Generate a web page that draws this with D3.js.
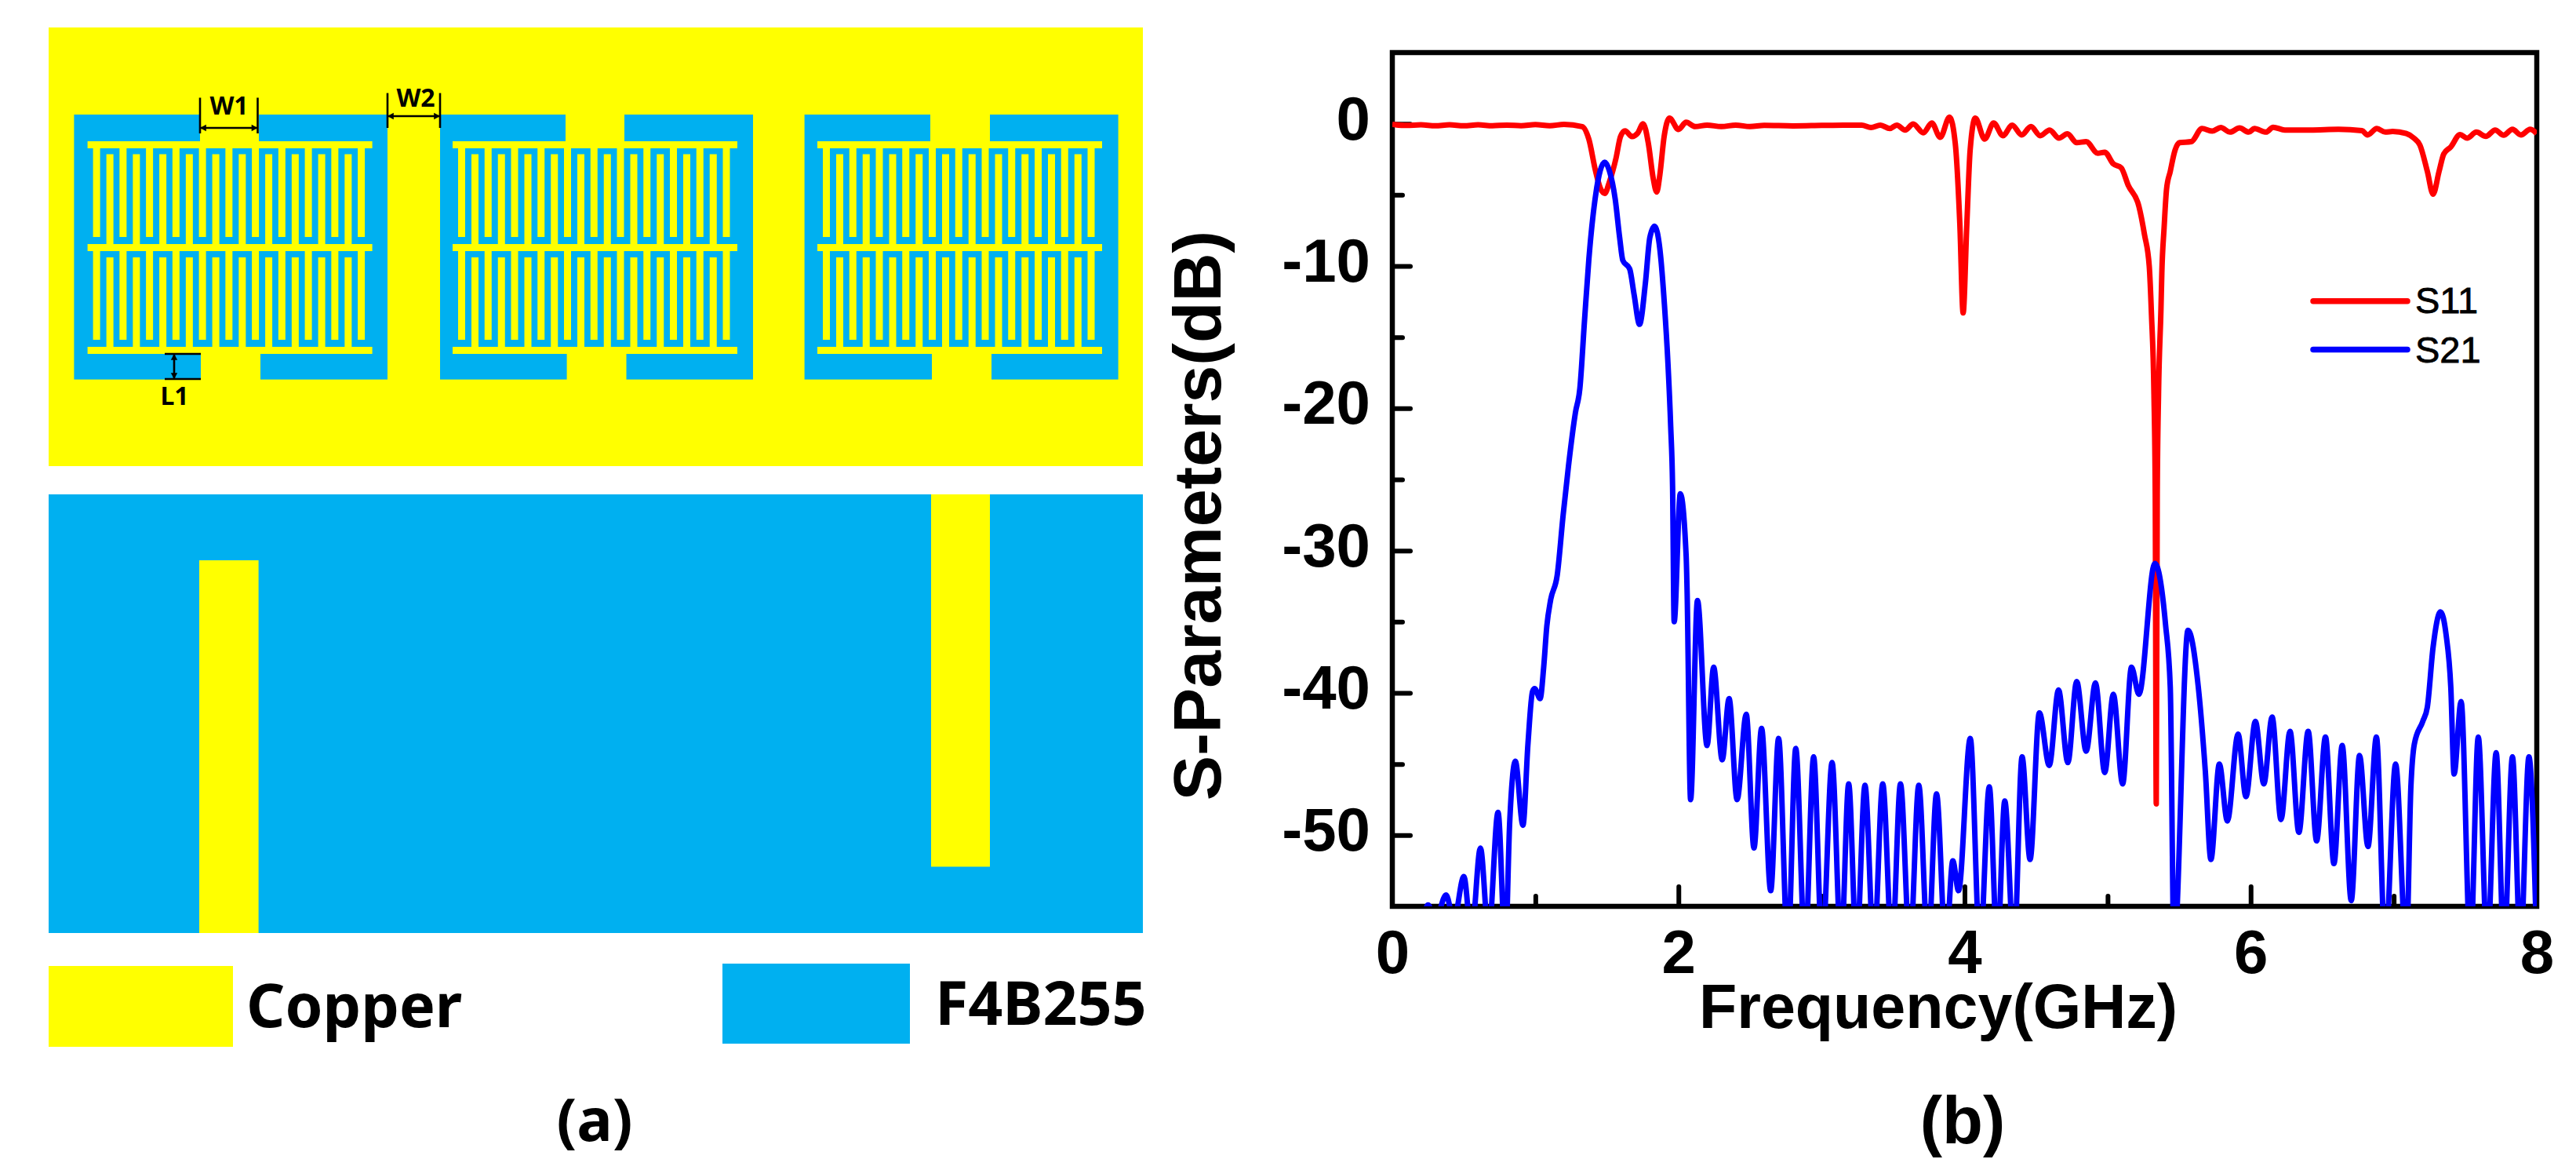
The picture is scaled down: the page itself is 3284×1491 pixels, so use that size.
<!DOCTYPE html>
<html>
<head>
<meta charset="utf-8">
<script src="https://cdn.jsdelivr.net/npm/d3@7"></script>
<style>
html,body{margin:0;padding:0;background:#fff}
svg{display:block}
</style>
</head>
<body>
<svg id="fig" width="3284" height="1491"></svg>
<script>
// ---- chart data ----
const xTickValues = [0, 2, 4, 6, 8];
const xMinorValues = [1, 3, 5, 7];
const yTickValues = [0, -10, -20, -30, -40, -50];
const yMinorValues = [-5, -15, -25, -35, -45];
const seriesNames = ["S11", "S21"];

const s11Freq = [0,0.1,0.2,0.3,0.4,0.5,0.6,0.7,0.8,0.9,1.0,1.1,1.2,1.327,1.374,1.42,1.453,1.485,1.517,1.564,1.595,1.627,1.675,1.716,1.753,1.79,1.823,1.848,1.87,1.9,1.937,2.0,2.054,2.117,2.2,2.3,2.4,2.5,2.6,2.8,3.0,3.15,3.281,3.346,3.412,3.477,3.526,3.585,3.641,3.712,3.771,3.83,3.895,3.935,3.967,3.99,4.016,4.039,4.075,4.141,4.203,4.268,4.333,4.399,4.464,4.529,4.595,4.66,4.719,4.784,4.85,4.931,4.98,5.039,5.095,5.144,5.219,5.258,5.291,5.307,5.324,5.333,5.34,5.347,5.356,5.373,5.379,5.395,5.412,5.438,5.471,5.503,5.585,5.66,5.732,5.791,5.856,5.922,5.987,6.026,6.108,6.157,6.239,6.418,6.614,6.778,6.817,6.882,6.941,6.993,7.088,7.141,7.183,7.235,7.275,7.317,7.35,7.399,7.464,7.513,7.578,7.644,7.709,7.768,7.83,7.889,7.954,8];
const s11Db = [-0.05,-0.12,-0.08,-0.14,-0.08,-0.14,-0.08,-0.14,-0.1,-0.14,-0.06,-0.14,-0.05,-0.2,-1.1,-3.3,-4.5,-4.9,-4.1,-2.4,-0.9,-0.5,-0.9,-0.65,0,-1.4,-3.8,-4.8,-3.6,-0.9,0.4,-0.4,0.1,-0.2,-0.1,-0.2,-0.1,-0.2,-0.12,-0.15,-0.12,-0.1,-0.1,-0.27,-0.1,-0.34,-0.1,-0.44,-0.02,-0.64,0.05,-0.96,0.47,-1.38,-7.04,-13.3,-7.04,-1.87,0.39,-1.08,0.05,-0.84,-0.1,-0.79,-0.2,-0.84,-0.44,-1.01,-0.71,-1.33,-1.26,-2.07,-2,-2.81,-3.1,-4.33,-5.81,-7.8,-10,-13.5,-19,-26,-47.8,-26,-19,-13,-10.5,-7.3,-4.6,-3.35,-1.87,-1.33,-1.26,-0.34,-0.52,-0.27,-0.59,-0.3,-0.59,-0.34,-0.59,-0.25,-0.44,-0.44,-0.39,-0.49,-0.79,-0.34,-0.59,-0.54,-0.69,-1.01,-1.5,-3.35,-4.95,-3.35,-2.12,-1.63,-0.76,-1.01,-0.59,-0.89,-0.44,-0.81,-0.39,-0.79,-0.39,-0.69];

const s21Freq = [0.2,0.25,0.3,0.376,0.43,0.5,0.553,0.616,0.673,0.739,0.79,0.82,0.86,0.913,0.948,0.98,0.995,1.033,1.058,1.08,1.106,1.153,1.194,1.232,1.28,1.311,1.343,1.374,1.42,1.453,1.485,1.517,1.558,1.589,1.611,1.659,1.69,1.728,1.769,1.8,1.833,1.87,1.902,1.927,1.946,1.959,1.97,2.013,2.054,2.06,2.085,2.133,2.2,2.246,2.306,2.354,2.41,2.474,2.528,2.581,2.645,2.7,2.765,2.82,2.885,2.945,3.005,3.074,3.137,3.19,3.245,3.304,3.366,3.428,3.493,3.552,3.618,3.68,3.745,3.804,3.869,3.918,3.958,4.04,4.108,4.173,4.229,4.281,4.346,4.402,4.458,4.523,4.592,4.657,4.722,4.784,4.85,4.915,4.98,5.04,5.105,5.167,5.219,5.33,5.405,5.438,5.464,5.562,5.634,5.683,5.722,5.781,5.837,5.912,5.967,6.033,6.092,6.15,6.212,6.275,6.337,6.402,6.461,6.523,6.582,6.64,6.703,6.761,6.82,6.879,6.941,7.013,7.088,7.12,7.144,7.203,7.235,7.275,7.327,7.366,7.399,7.422,7.471,7.536,7.591,7.654,7.716,7.771,7.83,7.886,7.945,8];
const s21Db = [-57,-54.9,-56,-54.2,-56,-52.9,-57,-50.9,-57,-48.4,-58,-49.2,-44.8,-49.3,-43.6,-39.9,-39.7,-40.4,-38.2,-35.3,-33.5,-31.7,-27.5,-24,-20.3,-18.6,-13.9,-9.5,-5.1,-3.3,-2.7,-3.3,-5.3,-8,-9.6,-10.2,-12,-14.1,-11.2,-8,-7.2,-8.8,-12.7,-16.9,-21.3,-25.5,-35,-26,-30.4,-32.6,-47.5,-33.5,-43.7,-38.2,-44.7,-40.4,-47.5,-41.5,-50.9,-42.5,-53.9,-43.2,-58,-43.9,-58,-44.5,-58,-44.9,-58,-46.4,-58,-46.5,-58,-46.4,-58,-46.4,-58,-46.5,-58,-47.1,-58,-51.8,-53.9,-43.2,-58,-46.6,-58,-47.6,-58,-44.5,-51.7,-41.4,-45.1,-39.8,-44.9,-39.2,-44.1,-39.3,-45.6,-40.1,-46.4,-38.2,-40.1,-30.9,-35.2,-39.6,-58,-35.6,-39.6,-45.5,-51.7,-45,-49,-42.9,-47.3,-42,-46.4,-41.7,-48.9,-42.7,-49.8,-42.7,-50.4,-43.1,-52,-43.7,-54.6,-44.4,-50.8,-43.1,-58,-45,-58,-46.6,-43.6,-42,-41,-36.8,-34.3,-35.9,-39.6,-45.7,-40.6,-58,-43.1,-58,-44.2,-58,-44.5,-58,-44.5,-58];

// ---- diagram layout ----
const yellow = "#ffff00", cyan = "#00b0f0";
const blocks = [
  {x0:94.4,  x1:494,    topGap:[255,330],   botGap:[256,332],   rail:111.6},
  {x0:561,   x1:960,    topGap:[721,796],   botGap:[722.6,798.5], rail:577},
  {x0:1025.6,x1:1425.6, topGap:[1186,1262], botGap:[1188,1264], rail:1042}
];
const railW = 363, railH = 9, fingerW = 9, fingerPitch = 33.75;
const rows = [
  {railY:180, downEnd:302, upStart:196.5, nextRail:311},
  {railY:311, downEnd:433, upStart:328,   nextRail:442}
];
const svg = d3.select("#fig");

// ---- panel (a) ----
const a = svg.append("g").attr("id","panel-a");
function rect(g,x,y,w,h,fill){ return g.append("rect").attr("x",x).attr("y",y).attr("width",w).attr("height",h).attr("fill",fill); }
rect(a,62,35,1395,559,yellow);
blocks.forEach(b=>{
  rect(a,b.x0,146,b.x1-b.x0,337.6,cyan);
  rect(a,b.topGap[0],146,b.topGap[1]-b.topGap[0],34,yellow);
  rect(a,b.botGap[0],451,b.botGap[1]-b.botGap[0],33,yellow);
  [180,311,442].forEach(y=>rect(a,b.rail,y,railW,railH,yellow));
  rows.forEach(r=>{
    d3.range(11).forEach(i=>rect(a,b.rail+7+i*fingerPitch,r.railY,fingerW,r.downEnd-r.railY,yellow));
    d3.range(10).forEach(i=>rect(a,b.rail+7+17+i*fingerPitch,r.upStart,fingerW,r.nextRail-r.upStart,yellow));
  });
});
// dimension marks
const dimGroup = a.append("g").attr("stroke","#000").attr("stroke-width",2.6);
[[255,124.5,255,170],[328.5,124.5,328.5,170],[255,163,328.5,163],
 [494,118.6,494,163],[561,118.6,561,163],[494,148,561,148],
 [210,451,256,451],[210,483,256,483],[222,451,222,483]]
 .forEach(l=>dimGroup.append("line").attr("x1",l[0]).attr("y1",l[1]).attr("x2",l[2]).attr("y2",l[3]));
const arrow = (x,y,dir,vert)=>{ const s=6;
  const p = vert? [[x,y],[x-s*.7,y+dir*s*1.3],[x+s*.7,y+dir*s*1.3]] : [[x,y],[x+dir*s*1.3,y-s*.7],[x+dir*s*1.3,y+s*.7]];
  a.append("polygon").attr("points",p.join(" ")).attr("fill","#000"); };
arrow(255,163,1,false);arrow(328.5,163,-1,false);arrow(494,148,1,false);arrow(561,148,-1,false);arrow(222,451,1,true);arrow(222,483,-1,true);
const sansBold = "'Noto Sans', sans-serif";
function label(g,t,x,y,size,anchor,font,weight){
  return g.append("text").text(t).attr("x",x).attr("y",y).attr("font-family",font).attr("font-size",size)
    .attr("font-weight",weight||"bold").attr("text-anchor",anchor||"middle").attr("fill","#000");
}
label(a,"W1",292,145.5,32,"middle",sansBold);
label(a,"W2",530,136,32,"middle",sansBold);
label(a,"L1",222.6,516,32,"middle",sansBold);
// lower layer
rect(a,62,630,1395,559,cyan);
rect(a,254,714,75.6,475,yellow);
rect(a,1187,630,75,474.5,yellow);
// legend of the diagram
rect(a,62,1231,235,103,yellow);
rect(a,921,1228,239,102,cyan);
label(a,"Copper",314,1309,77,"start",sansBold);
label(a,"F4B255",1192,1306,77,"start",sansBold);
label(a,"(a)",758,1454,76,"middle",sansBold);

// ---- panel (b) ----
const arial = "'Liberation Sans', Arial, sans-serif";
const x = d3.scaleLinear().domain([0,8]).range([1775,3234]);
const y = d3.scaleLinear().domain([-55,5]).range([1155,67]);
const b = svg.append("g").attr("id","panel-b");

b.append("clipPath").attr("id","plot").append("rect")
  .attr("x",x(0)).attr("y",y(5)).attr("width",x(8)-x(0)).attr("height",y(-55)-y(5));

const line = (fs,ds)=>d3.line().x((d,i)=>x(fs[i])).y(d=>y(d)).curve(d3.curveMonotoneX)(ds);
const plot = b.append("g").attr("clip-path","url(#plot)").attr("fill","none").attr("stroke-width",7).attr("stroke-linejoin","round");

// frame
b.append("rect").attr("x",x(0)).attr("y",y(5)).attr("width",x(8)-x(0)).attr("height",y(-55)-y(5))
  .attr("fill","none").attr("stroke","#000").attr("stroke-width",6.5);

function styleAxis(g){
  g.select(".domain").remove();
  g.selectAll(".tick line").attr("stroke","#000").attr("stroke-width",6).attr("stroke-linecap","round");
  g.selectAll(".tick text").attr("font-family",arial).attr("font-size",78).attr("font-weight","bold").attr("fill","#000");
}
const gxMajor = b.append("g").attr("transform",`translate(0,${y(-55)})`)
  .call(d3.axisBottom(x).tickValues(xTickValues).tickSize(-25).tickPadding(29).tickFormat(d3.format("d"))).call(styleAxis);
gxMajor.selectAll(".tick text").attr("dy",0).attr("y",85);
gxMajor.selectAll(".tick").filter(d=>d===0||d===8).select("line").remove();
const gxMinor = b.append("g").attr("transform",`translate(0,${y(-55)})`)
  .call(d3.axisBottom(x).tickValues(xMinorValues).tickSize(-13).tickFormat("")).call(styleAxis);
gxMinor.selectAll(".tick text").remove();
const gyMajor = b.append("g").attr("transform",`translate(${x(0)},0)`)
  .call(d3.axisLeft(y).tickValues(yTickValues).tickSize(-23).tickPadding(28).tickFormat(d=>d3.format("d")(d).replace("\u2212","-"))).call(styleAxis);
gyMajor.selectAll(".tick text").attr("dy",19.5);
const gyMinor = b.append("g").attr("transform",`translate(${x(0)},0)`)
  .call(d3.axisLeft(y).tickValues(yMinorValues).tickSize(-13).tickFormat("")).call(styleAxis);
gyMinor.selectAll(".tick text").remove();

// series are drawn above the axis ticks
plot.raise();
plot.append("path").attr("d",line(s11Freq,s11Db)).attr("stroke","#ff0000");
plot.append("path").attr("d",line(s21Freq,s21Db)).attr("stroke","#0000ff");

// axis titles
label(b,"Frequency(GHz)",2471,1309.5,79,"middle",arial);
label(b,"S-Parameters(dB)",0,0,86,"middle",arial).attr("transform","translate(1556,657) rotate(-90)");
// legend
const legendColors = ["#ff0000","#0000ff"];
[[383.7,399],[445.4,462]].forEach((p,i)=>{
  b.append("line").attr("x1",2949).attr("x2",3069).attr("y1",p[0]).attr("y2",p[0])
    .attr("stroke",legendColors[i]).attr("stroke-width",7.5).attr("stroke-linecap","round");
  label(b,seriesNames[i],3079,p[1],47,"start",arial,"normal").attr("stroke","#000").attr("stroke-width",0.8);
});
label(b,"(b)",2502,1457,85,"middle",arial);
</script>
</body>
</html>
